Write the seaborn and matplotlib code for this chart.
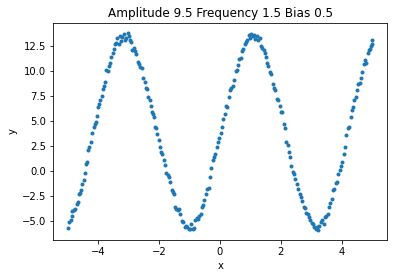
import matplotlib
matplotlib.use("Agg")
import matplotlib.pyplot as plt
import seaborn as sns
import pandas as pd

x_vals = [
    -4.98, -4.95, -4.91, -4.87, -4.85, -4.79, -4.75, -4.70, -4.67, -4.64, -4.59, -4.56, -4.52, -4.48,
    -4.44, -4.41, -4.37, -4.33, -4.29, -4.24, -4.20, -4.14, -4.11, -4.07, -4.04, -4.00, -3.97, -3.93,
    -3.89, -3.86, -3.81, -3.78, -3.74, -3.69, -3.65, -3.60, -3.57, -3.53, -3.48, -3.45, -3.41, -3.37,
    -3.33, -3.29, -3.25, -3.21, -3.16, -3.12, -3.08, -3.04, -3.00, -2.96, -2.91,
    -2.88, -2.84, -2.79, -2.75, -2.70, -2.66, -2.62, -2.57, -2.53, -2.48, -2.44, -2.40, -2.35, -2.31,
    -2.26, -2.23, -2.20, -2.16, -2.13, -2.10, -2.07, -2.02, -1.98, -1.93, -1.89, -1.85, -1.80, -1.76,
    -1.71, -1.67, -1.63, -1.58, -1.54, -1.52, -1.47, -1.43, -1.38, -1.34, -1.30, -1.25, -1.21, -1.16,
    -1.12, -1.08, -1.03, -0.99, -0.95, -0.90, -0.86,
    -0.81, -0.77, -0.73, -0.68, -0.64, -0.59, -0.55, -0.51, -0.46, -0.42, -0.37, -0.33, -0.29, -0.24,
    -0.20, -0.15, -0.11, -0.07, -0.02, 0.02, 0.07, 0.11, 0.15, 0.20, 0.24, 0.29, 0.33, 0.37, 0.42,
    0.46, 0.51, 0.55, 0.59, 0.64, 0.68, 0.73, 0.77, 0.81, 0.86, 0.90, 0.95, 0.99, 1.03, 1.08, 1.12,
    1.16, 1.21, 1.25, 1.30,
    1.34, 1.38, 1.43, 1.47, 1.52, 1.54, 1.58, 1.65, 1.69, 1.74, 1.78, 1.82, 1.87, 1.91, 1.96, 2.00,
    2.04, 2.09, 2.13, 2.18, 2.22, 2.26, 2.31, 2.35, 2.40, 2.44, 2.48, 2.53, 2.57, 2.62, 2.66, 2.70,
    2.75, 2.79, 2.84, 2.88, 2.92, 2.97, 3.01, 3.05, 3.10, 3.14, 3.19, 3.23, 3.27, 3.32, 3.36, 3.41,
    3.45, 3.49, 3.54, 3.58, 3.63, 3.67, 3.71, 3.76, 3.80, 3.85, 3.89, 3.93, 3.98, 4.02, 4.07, 4.11,
    4.15, 4.20, 4.24, 4.29, 4.33, 4.37, 4.42, 4.46, 4.51, 4.55, 4.59, 4.64, 4.68, 4.73, 4.77, 4.81,
    4.86, 4.90, 4.93, 4.96, 4.98, 5.00,
]

y_vals = [
    -5.71, -5.05, -4.88, -4.48, -3.95, -3.89, -3.82, -3.29, -3.12, -2.29, -2.16, -1.89, -1.30, -0.83,
    -0.17, 0.70, 0.93, 2.16, 2.43, 2.96, 3.82, 4.42, 4.75, 4.88, 5.48, 6.41, 6.74, 7.14,
    7.54, 8.24, 8.47, 8.90, 10.13, 10.00, 10.47, 10.86, 11.40, 11.86, 12.23, 12.66, 12.79, 13.32,
    12.72, 13.55, 12.99, 13.39, 13.72, 13.12, 13.32, 13.85, 13.46, 13.06, 12.86,
    12.13, 12.26, 12.00, 11.73, 10.96, 10.73, 10.40, 10.27, 9.34, 8.90, 8.34, 8.24, 7.41, 7.14,
    6.48, 5.88, 5.75, 5.42, 4.42, 4.29, 3.69, 3.09, 2.43, 1.93, 1.69, 1.10, 0.63, -0.17,
    -0.37, -0.56, -1.06, -1.83, -2.06, -2.23, -3.62, -3.82, -3.89, -3.82, -4.22, -4.95, -5.02, -5.55,
    -5.42, -5.55, -5.81, -5.75, -5.22, -5.81, -5.68,
    -4.88, -4.62, -4.75, -4.42, -4.22, -3.55, -3.36, -2.89, -2.23, -1.73, -1.63, -0.56, 0.37, 1.10,
    1.43, 1.76, 2.43, 2.96, 3.36, 3.82, 4.42, 5.22, 5.75, 6.54, 6.41, 7.41, 8.14, 8.34, 8.47,
    9.07, 10.00, 10.13, 10.66, 11.20, 11.33, 12.00, 12.19, 12.66, 12.86, 13.12, 13.65, 13.32, 13.72, 13.46, 13.59,
    13.19, 13.46, 13.06, 13.32,
    12.46, 12.33, 12.06, 11.79, 11.40, 10.86, 10.47, 9.93, 9.73, 8.74, 8.34, 8.14, 7.24, 7.14, 6.48, 5.88,
    5.95, 4.68, 4.29, 2.96, 2.62, 1.89, 1.43, 0.53, -0.10, -0.23, -0.73, -1.23, -1.76, -2.23, -2.56, -3.02,
    -3.55, -3.72, -4.15, -4.29, -4.55, -4.88, -5.15, -5.28, -5.55, -5.81, -5.61, -5.88, -5.42, -5.08, -4.88, -5.28,
    -4.55, -4.42, -4.22, -3.55, -3.16, -2.82, -1.89, -1.76, -1.16, -1.06, -0.30, 0.10, 0.50, 0.96, 1.69, 2.43,
    3.62, 4.29, 4.42, 5.42, 6.08, 6.41, 7.14, 7.41, 8.07, 8.74, 8.80, 9.34, 9.90, 10.73, 11.13, 10.86,
    11.79, 12.06, 12.20, 12.50, 12.66, 13.12,
]

title_text = "Amplitude 9.5 Frequency 1.5 Bias 0.5"

df = pd.DataFrame({"x": x_vals, "y": y_vals})

fig = plt.figure(figsize=(394 / 72, 278 / 72), dpi=72)
fig.patch.set_facecolor("white")
ax = fig.add_axes([53.3 / 394, 1 - 240 / 278, (387.3 - 53.3) / 394, (240 - 22.7) / 278])

sns.scatterplot(data=df, x="x", y="y", ax=ax, s=16, linewidth=0, color="#1f77b4")
ax.set_title(title_text, fontsize=12)
ax.set_xlabel("x", fontsize=10)
ax.set_ylabel("y", fontsize=10)
ax.set_xticks([-4, -2, 0, 2, 4])
ax.set_yticks([-5.0, -2.5, 0.0, 2.5, 5.0, 7.5, 10.0, 12.5])
ax.tick_params(labelsize=10)

fig.savefig("out.png", dpi=72, facecolor="white")
